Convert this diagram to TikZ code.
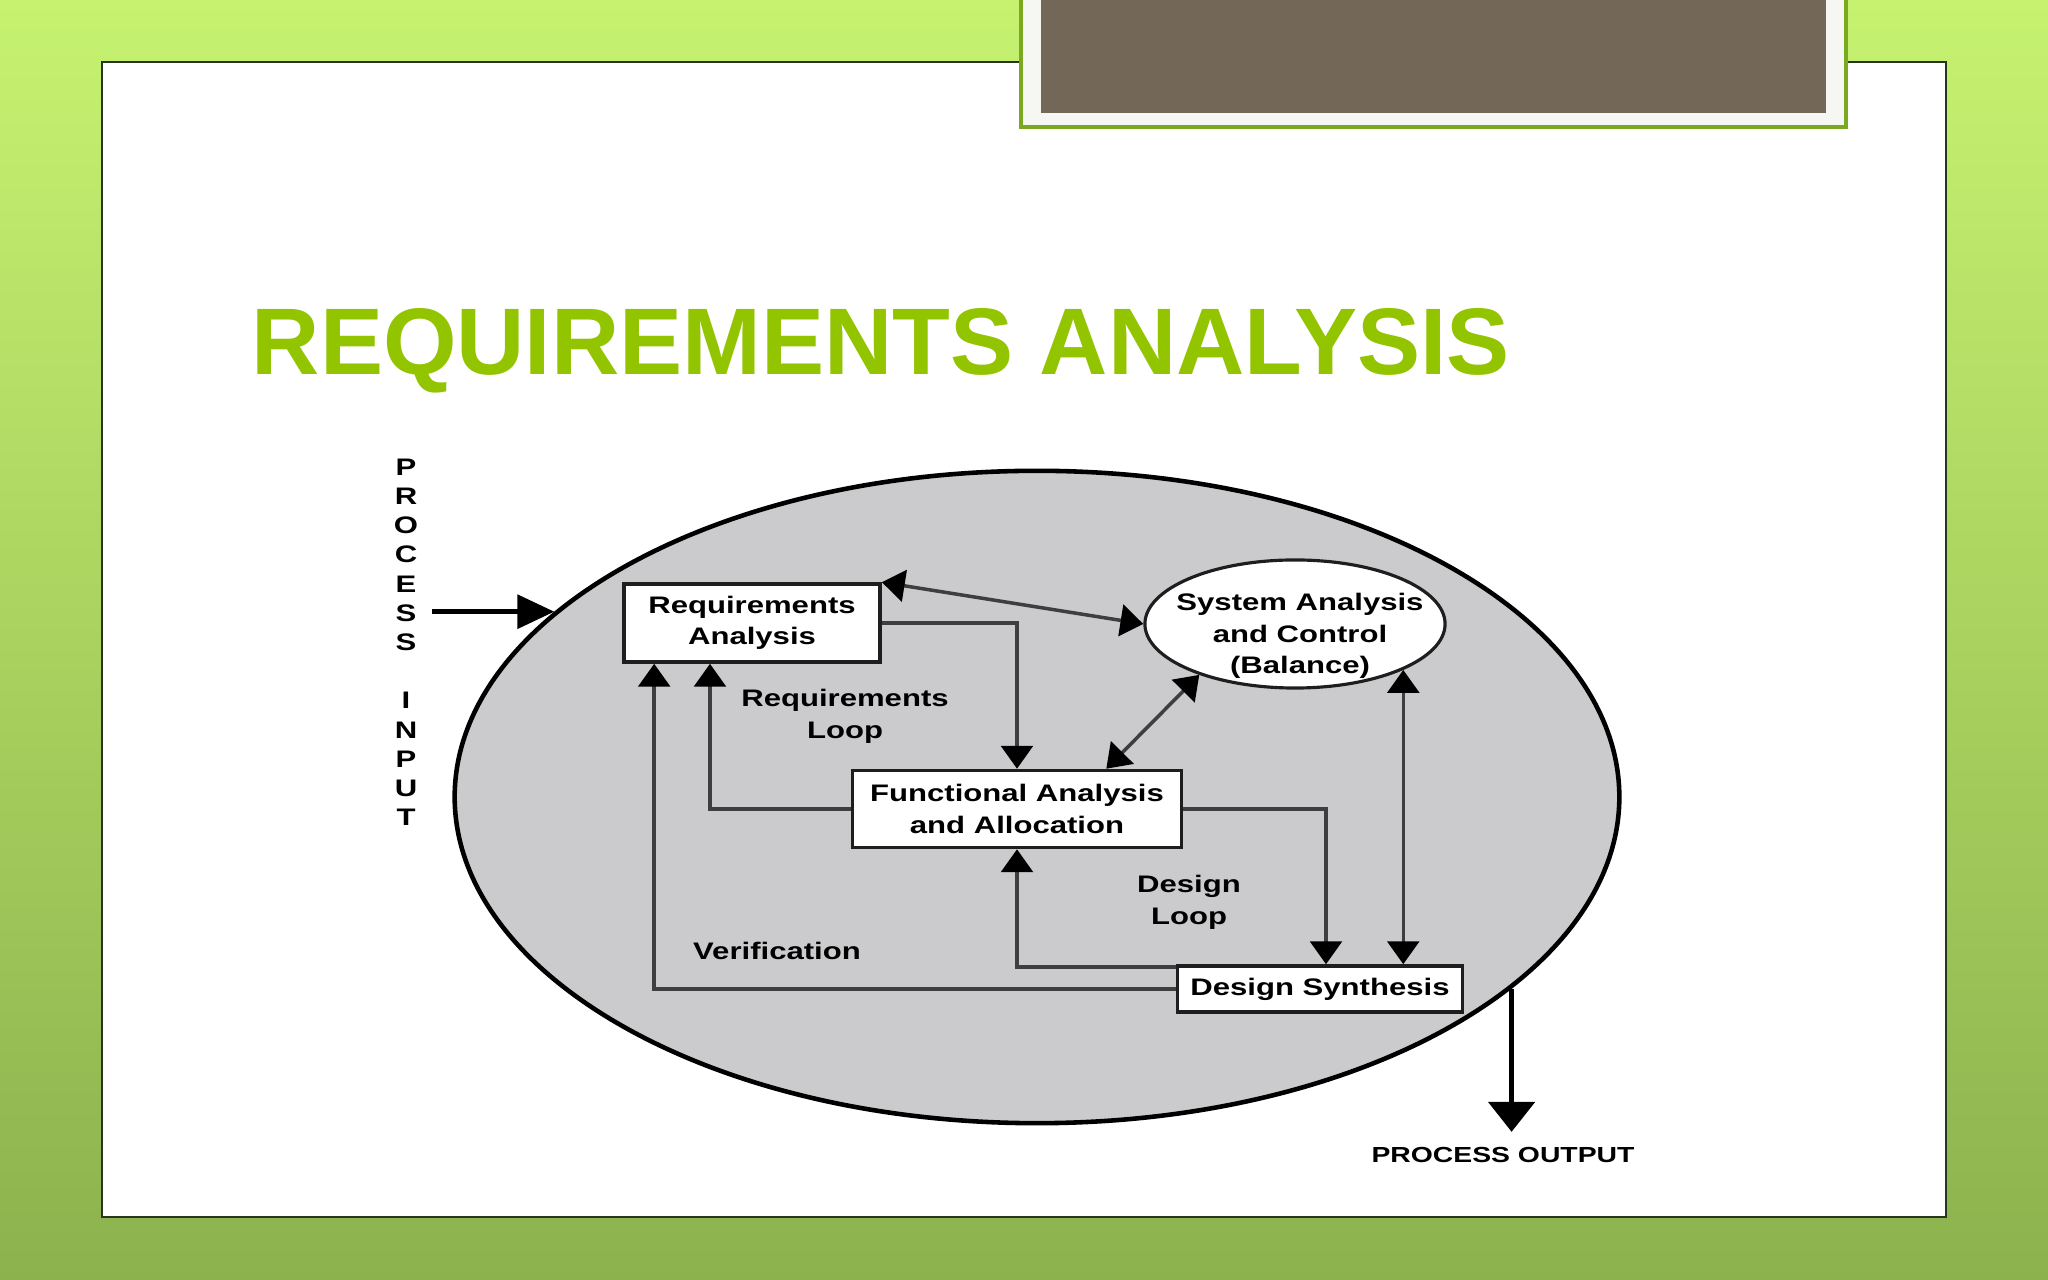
\documentclass[tikz,border=0pt]{standalone}
\usepackage{fontspec}
\setmainfont{Liberation Sans}
\newfontfamily\diagfont[FakeStretch=1.3]{Liberation Sans}
\usetikzlibrary{arrows.meta,shapes.geometric}

\definecolor{bgtop}{RGB}{198,242,112}
\definecolor{bgbottom}{RGB}{140,178,78}
\definecolor{titlegreen}{RGB}{146,196,0}
\definecolor{panelline}{RGB}{40,52,30}
\definecolor{framewhite}{RGB}{246,246,243}
\definecolor{frameedge}{RGB}{122,168,30}
\definecolor{brownbar}{RGB}{115,103,88}
\definecolor{procgray}{RGB}{203,203,205}
\definecolor{linegray}{RGB}{62,62,62}
\definecolor{boxline}{RGB}{30,30,30}

\newcommand\diagtext{\diagfont\bfseries\fontsize{6.8}{9}\selectfont}
\newcommand\outtext{\diagfont\bfseries\fontsize{6.2}{8}\selectfont}

\tikzset{
  box node/.style={draw=boxline, line width=1pt, fill=white, align=center, inner sep=0pt},
  flow/.style={draw=linegray, line width=1pt, -{Triangle[length=6.5pt,width=9pt,color=black]}},
  both ways/.style={draw=linegray, line width=1pt, {Triangle[length=6.5pt,width=9pt,color=black]}-{Triangle[length=6.5pt,width=9pt,color=black]}},
  in arrow/.style={draw=black, line width=1.4pt, -{Triangle[length=10.5pt,width=9.5pt]}},
  out arrow/.style={draw=black, line width=1.6pt, -{Triangle[length=8.5pt,width=13pt]}},
}

\begin{document}
\begin{tikzpicture}[x=0.01cm, y=-0.01cm, every node/.style={font=\diagtext}]
    \useasboundingbox (0,0) rectangle (2048,1280);
    \shade[top color=bgtop, bottom color=bgbottom] (0,0) rectangle (2048,1280);
    \draw[panelline, line width=0.6pt, fill=white] (102,62) rectangle (1946,1217);
    \fill[framewhite] (1021,0) rectangle (1846,127);
    \draw[frameedge, line width=1.2pt] (1021,0) |- (1846,127) -- (1846,0);
    \fill[brownbar] (1041,0) rectangle (1826,113);

    \node[font=\fontsize{26.9}{30}\selectfont\bfseries, text=titlegreen, anchor=base west, inner sep=0pt] (title) at (251,375) {REQUIREMENTS ANALYSIS};

    \node[ellipse, draw=black, line width=1.3pt, fill=procgray, inner sep=0pt, minimum width=11.64cm, minimum height=6.52cm] (proc) at (1037,797) {};

    \node[box node, minimum width=2.56cm, minimum height=0.78cm] (req) at (752,623) {Requirements\\Analysis};
    \node[box node, minimum width=3.29cm, minimum height=0.77cm] (func) at (1017,809) {Functional Analysis\\and Allocation};
    \node[box node, minimum width=2.85cm, minimum height=0.46cm] (synth) at (1320,989) {Design Synthesis};
    \node[ellipse, draw=boxline, line width=0.9pt, fill=white, inner sep=0pt, minimum width=3cm, minimum height=1.28cm] (sys) at (1295,624) {};
    \node[align=center, inner sep=0pt] (systext) at (1300,636) {System Analysis\\and Control\\(Balance)};

    \node[align=center, inner sep=0pt] (reqloop) at (845,716) {Requirements\\Loop};
    \node[align=center, inner sep=0pt] (designloop) at (1189,902) {Design\\Loop};
    \node[anchor=base, inner sep=0pt] (verif) at (777,960) {Verification};
    \node[anchor=base, inner sep=0pt, font=\outtext] (outlabel) at (1503,1163) {PROCESS OUTPUT};
    \foreach \ch/\k in {P/0,R/1,O/2,C/3,E/4,S/5,S/6,I/8,N/9,P/10,U/11,T/12}
        \node[inner sep=0pt] (pin\k) at (406,{467+29.2*\k}) {\ch};

    \coordinate (inpt) at ([xshift=-1.22cm]proc.159);
    \coordinate (outpt) at ([yshift=-1.43cm]proc.338);
    \draw[in arrow] (inpt) -- (proc.159);
    \draw[out arrow] (proc.338) -- (outpt);

    \draw[both ways] (req.north east) -- (sys.west);
    \draw[both ways] ([xshift=-0.77cm]func.north east) -- (sys.208);
    \draw[both ways] (sys.337) -- (sys.337 |- synth.north);
    \draw[flow] (req.east) -| (func.north);
    \draw[flow] (func.east) -| ([xshift=0.06cm]synth.north);
    \draw[flow] (func.west) -| ([xshift=-0.42cm]req.south);
    \draw[flow] ([yshift=-0.03cm]synth.north west) -| (func.south);
    \draw[flow] (synth.west) -| ([xshift=0.32cm]req.south west);
\end{tikzpicture}
\end{document}
